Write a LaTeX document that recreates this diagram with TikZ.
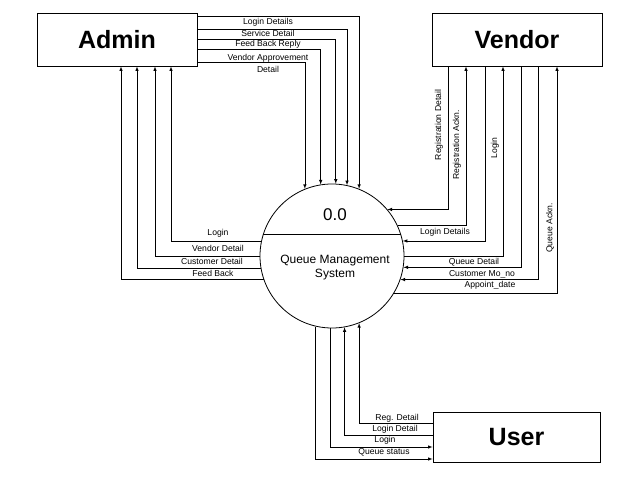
\documentclass[tikz,border=0pt]{standalone}
\usepackage{fontspec}
\setmainfont{Liberation Sans}
\begin{document}
\begin{tikzpicture}[x=1pt,y=-1pt,
  ent/.style={draw,thick,inner sep=0,font=\fontsize{25}{27}\selectfont\bfseries},
  flow/.style={draw,-latex,line width=0.6pt},
  lab/.style={font=\fontsize{8.6}{9}\selectfont,inner sep=0},
  vlab/.style={lab,rotate=90}]
\useasboundingbox (0,0) rectangle (638,478);
\node[ent,minimum width=160pt,minimum height=53pt] (admin) at (117,39.5) {Admin};
\node[ent,minimum width=170pt,minimum height=53pt] (vendor) at (517,39.5) {Vendor};
\node[ent,minimum width=167pt,minimum height=50pt] (user) at (516.5,437) {User};
\node[draw,circle,thick,minimum size=144pt,inner sep=0] (q) at (332,256) {};
\draw[thick] (q.163) -- (q.17);
\node[font=\fontsize{17}{19}\selectfont] (num) at (335,215) {0.0};
\node[align=center,font=\fontsize{12}{14}\selectfont] (qms) at (335,268) {Queue Management\\System};
% admin -> process
\path[flow] ([yshift=23.5pt]admin.east) -| (q.68);
\path[flow] ([yshift=10.5pt]admin.east) -| (q.78);
\path[flow] ([yshift=0.5pt]admin.east) -| (q.87);
\path[flow] ([yshift=-9.5pt]admin.east) -| (q.99);
\path[flow] ([yshift=-22.5pt]admin.east) -| (q.112);
\node[lab] (l1) at (268,22) {Login Details};
\node[lab] (l2) at (268,33) {Service Detail};
\node[lab] (l3) at (268,44) {Feed Back Reply};
\node[lab] (l4) at (268,58) {Vendor Approvement};
\node[lab] (l5) at (268,69) {Detail};
% process -> admin
\path[flow] (q.168) -| ([xshift=54pt]admin.south);
\path[flow] (q.180) -| ([xshift=38pt]admin.south);
\path[flow] (q.190) -| ([xshift=20pt]admin.south);
\path[flow] (q.199.5) -| ([xshift=4pt]admin.south);
\node[lab] (l6) at (218,233) {Login};
\node[lab] (l7) at (218,248) {Vendor Detail};
\node[lab] (l8) at (212,261) {Customer Detail};
\node[lab] (l9) at (213,273) {Feed Back};
% vendor <-> process
\path[flow] ([xshift=-69pt]vendor.south) |- (q.40);
\path[flow] (q.25.5) -| ([xshift=-51pt]vendor.south);
\path[flow] ([xshift=-32pt]vendor.south) |- (q.12.8);
\path[flow] (q.0) -| ([xshift=-14pt]vendor.south);
\path[flow] ([xshift=4pt]vendor.south) |- (q.-9.6);
\path[flow] ([xshift=21pt]vendor.south) |- (q.-19.5);
\path[flow] (q.-31) -| ([xshift=40pt]vendor.south);
\node[vlab] (v1) at (439,125) {Registration Detail};
\node[vlab] (v2) at (457,145) {Registration Ackn.};
\node[vlab] (v3) at (495,148) {Login};
\node[vlab] (v4) at (550,228) {Queue Ackn.};
\node[lab] (r1) at (445,232) {Login Details};
\node[lab] (r2) at (474,262) {Queue Detail};
\node[lab] (r3) at (482,274) {Customer Mo\_no};
\node[lab] (r4) at (490,285) {Appoint\_date};
% user <-> process
\path[flow] ([yshift=14pt]user.west) -| (q.-68);
\path[flow] ([yshift=2pt]user.west) -| (q.-80.4);
\path[flow] (q.-91) |- ([yshift=-10pt]user.west);
\path[flow] (q.-103.7) |- ([yshift=-22pt]user.west);
\node[lab] (u1) at (397,418) {Reg. Detail};
\node[lab] (u2) at (395,429) {Login Detail};
\node[lab] (u3) at (385,440) {Login};
\node[lab] (u4) at (384,452) {Queue status};
\end{tikzpicture}
\end{document}
